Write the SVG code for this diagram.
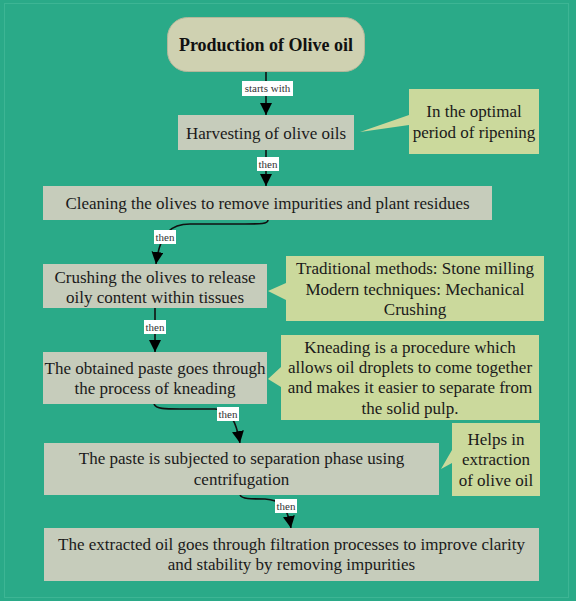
<svg xmlns="http://www.w3.org/2000/svg" width="576" height="601" viewBox="0 0 576 601">
  <style>
    .box { fill: #c6ccbb; }
    .note { fill: #cbd99c; }
    .t { font-family: "Liberation Serif", "Times New Roman", serif; font-size: 17px; fill: #1a1a1a; text-anchor: middle; }
    .n { font-family: "Liberation Serif", "Times New Roman", serif; font-size: 17px; fill: #1a1a1a; text-anchor: middle; }
    .title { font-family: "Liberation Serif", "Times New Roman", serif; font-size: 18px; font-weight: bold; fill: #111; text-anchor: middle; }
    .edge { fill: none; stroke: #111; stroke-width: 1.6; }
    .lblbg { fill: #ffffff; }
    .lbl { font-family: "Liberation Serif", "Times New Roman", serif; font-size: 11px; fill: #333; text-anchor: middle; }
  </style>
  <defs>
    <marker id="arrow" markerUnits="userSpaceOnUse" markerWidth="13" markerHeight="13" refX="12" refY="6" orient="auto">
      <path d="M0,0 L12,6 L0,12 Z" fill="#000"/>
    </marker>
  </defs>
  <rect x="0" y="0" width="576" height="601" fill="#2aaa88"/>
  <rect x="4.5" y="3.5" width="564" height="594" fill="none" stroke="#3db594" stroke-width="1"/>

  <g id="connectors">
    <path class="edge" d="M266,72 L266,115" marker-end="url(#arrow)"/>
    <path class="edge" d="M266,150 L266,186" marker-end="url(#arrow)"/>
    <path class="edge" d="M268,220 C268,224 262,224 240,224 L190,224 C172,224 160,232 156,264" marker-end="url(#arrow)"/>
    <path class="edge" d="M155,308 L155,352" marker-end="url(#arrow)"/>
    <path class="edge" d="M154,404 C156,409 165,409 180,409 L215,409 C230,410 236,420 240,443" marker-end="url(#arrow)"/>
    <path class="edge" d="M240,495 C242,499 250,499 265,499 C280,500 287,505 291,528" marker-end="url(#arrow)"/>

    <rect class="lblbg" x="242" y="81" width="51" height="15"/>
    <text class="lbl" x="267.5" y="92">starts with</text>
    <rect class="lblbg" x="257" y="157" width="22" height="14"/>
    <text class="lbl" x="268" y="168">then</text>
    <rect class="lblbg" x="154" y="230" width="22" height="14"/>
    <text class="lbl" x="165" y="241">then</text>
    <rect class="lblbg" x="144" y="320" width="22" height="14"/>
    <text class="lbl" x="155" y="331">then</text>
    <rect class="lblbg" x="217" y="407" width="22" height="14"/>
    <text class="lbl" x="228" y="418">then</text>
    <rect class="lblbg" x="275" y="499" width="22" height="14"/>
    <text class="lbl" x="286" y="510">then</text>
  </g>

  <g id="title">
    <rect x="167.5" y="17.5" width="197" height="54" rx="20" ry="20" fill="#cfd1b1" stroke="#b3b79a" stroke-width="1"/>
    <text class="title" x="266" y="51">Production of Olive oil</text>
  </g>

  <g id="harvesting">
    <rect class="box" x="178" y="115" width="176" height="35"/>
    <text class="t" x="266" y="139">Harvesting of olive oils</text>
  </g>

  <g id="note-ripening">
    <path class="note" d="M409,89 H539 V154 H409 V125 L360,132 L409,115 Z"/>
    <text class="n" x="474" y="117">In the optimal</text>
    <text class="n" x="474" y="138">period of ripening</text>
  </g>

  <g id="cleaning">
    <rect class="box" x="43" y="186" width="449" height="34"/>
    <text class="t" x="267.5" y="209">Cleaning the olives to remove impurities and plant residues</text>
  </g>

  <g id="crushing">
    <rect class="box" x="43" y="264" width="224" height="44"/>
    <text class="t" x="155" y="283">Crushing the olives to release</text>
    <text class="t" x="155" y="303">oily content within tissues</text>
  </g>

  <g id="note-crushing">
    <path class="note" d="M286,256 H544 V321 H286 V300 L268,291 L286,283 Z"/>
    <text class="n" x="415" y="274">Traditional methods: Stone milling</text>
    <text class="n" x="415" y="295">Modern techniques: Mechanical</text>
    <text class="n" x="415" y="315">Crushing</text>
  </g>

  <g id="kneading">
    <rect class="box" x="43" y="352" width="224" height="52"/>
    <text class="t" x="155" y="374">The obtained paste goes through</text>
    <text class="t" x="155" y="394">the process of kneading</text>
  </g>

  <g id="note-kneading">
    <path class="note" d="M281,335 H539 V420 H281 V387 L268,379 L281,367 Z"/>
    <text class="n" x="410" y="353">Kneading is a procedure which</text>
    <text class="n" x="410" y="373">allows oil droplets to come together</text>
    <text class="n" x="410" y="393">and makes it easier to separate from</text>
    <text class="n" x="410" y="414">the solid pulp.</text>
  </g>

  <g id="separation">
    <rect class="box" x="44" y="443" width="395" height="52"/>
    <text class="t" x="241.5" y="464">The paste is subjected to separation phase using</text>
    <text class="t" x="241.5" y="485">centrifugation</text>
  </g>

  <g id="note-separation">
    <path class="note" d="M452,423 H540 V496 H452 V463 L441,469 L452,450 Z"/>
    <text class="n" x="496" y="445">Helps in</text>
    <text class="n" x="496" y="465">extraction</text>
    <text class="n" x="496" y="486">of olive oil</text>
  </g>

  <g id="filtration">
    <rect class="box" x="44" y="528" width="495" height="53"/>
    <text class="t" x="291.5" y="550">The extracted oil goes through filtration processes to improve clarity</text>
    <text class="t" x="291.5" y="570">and stability by removing impurities</text>
  </g>
</svg>
